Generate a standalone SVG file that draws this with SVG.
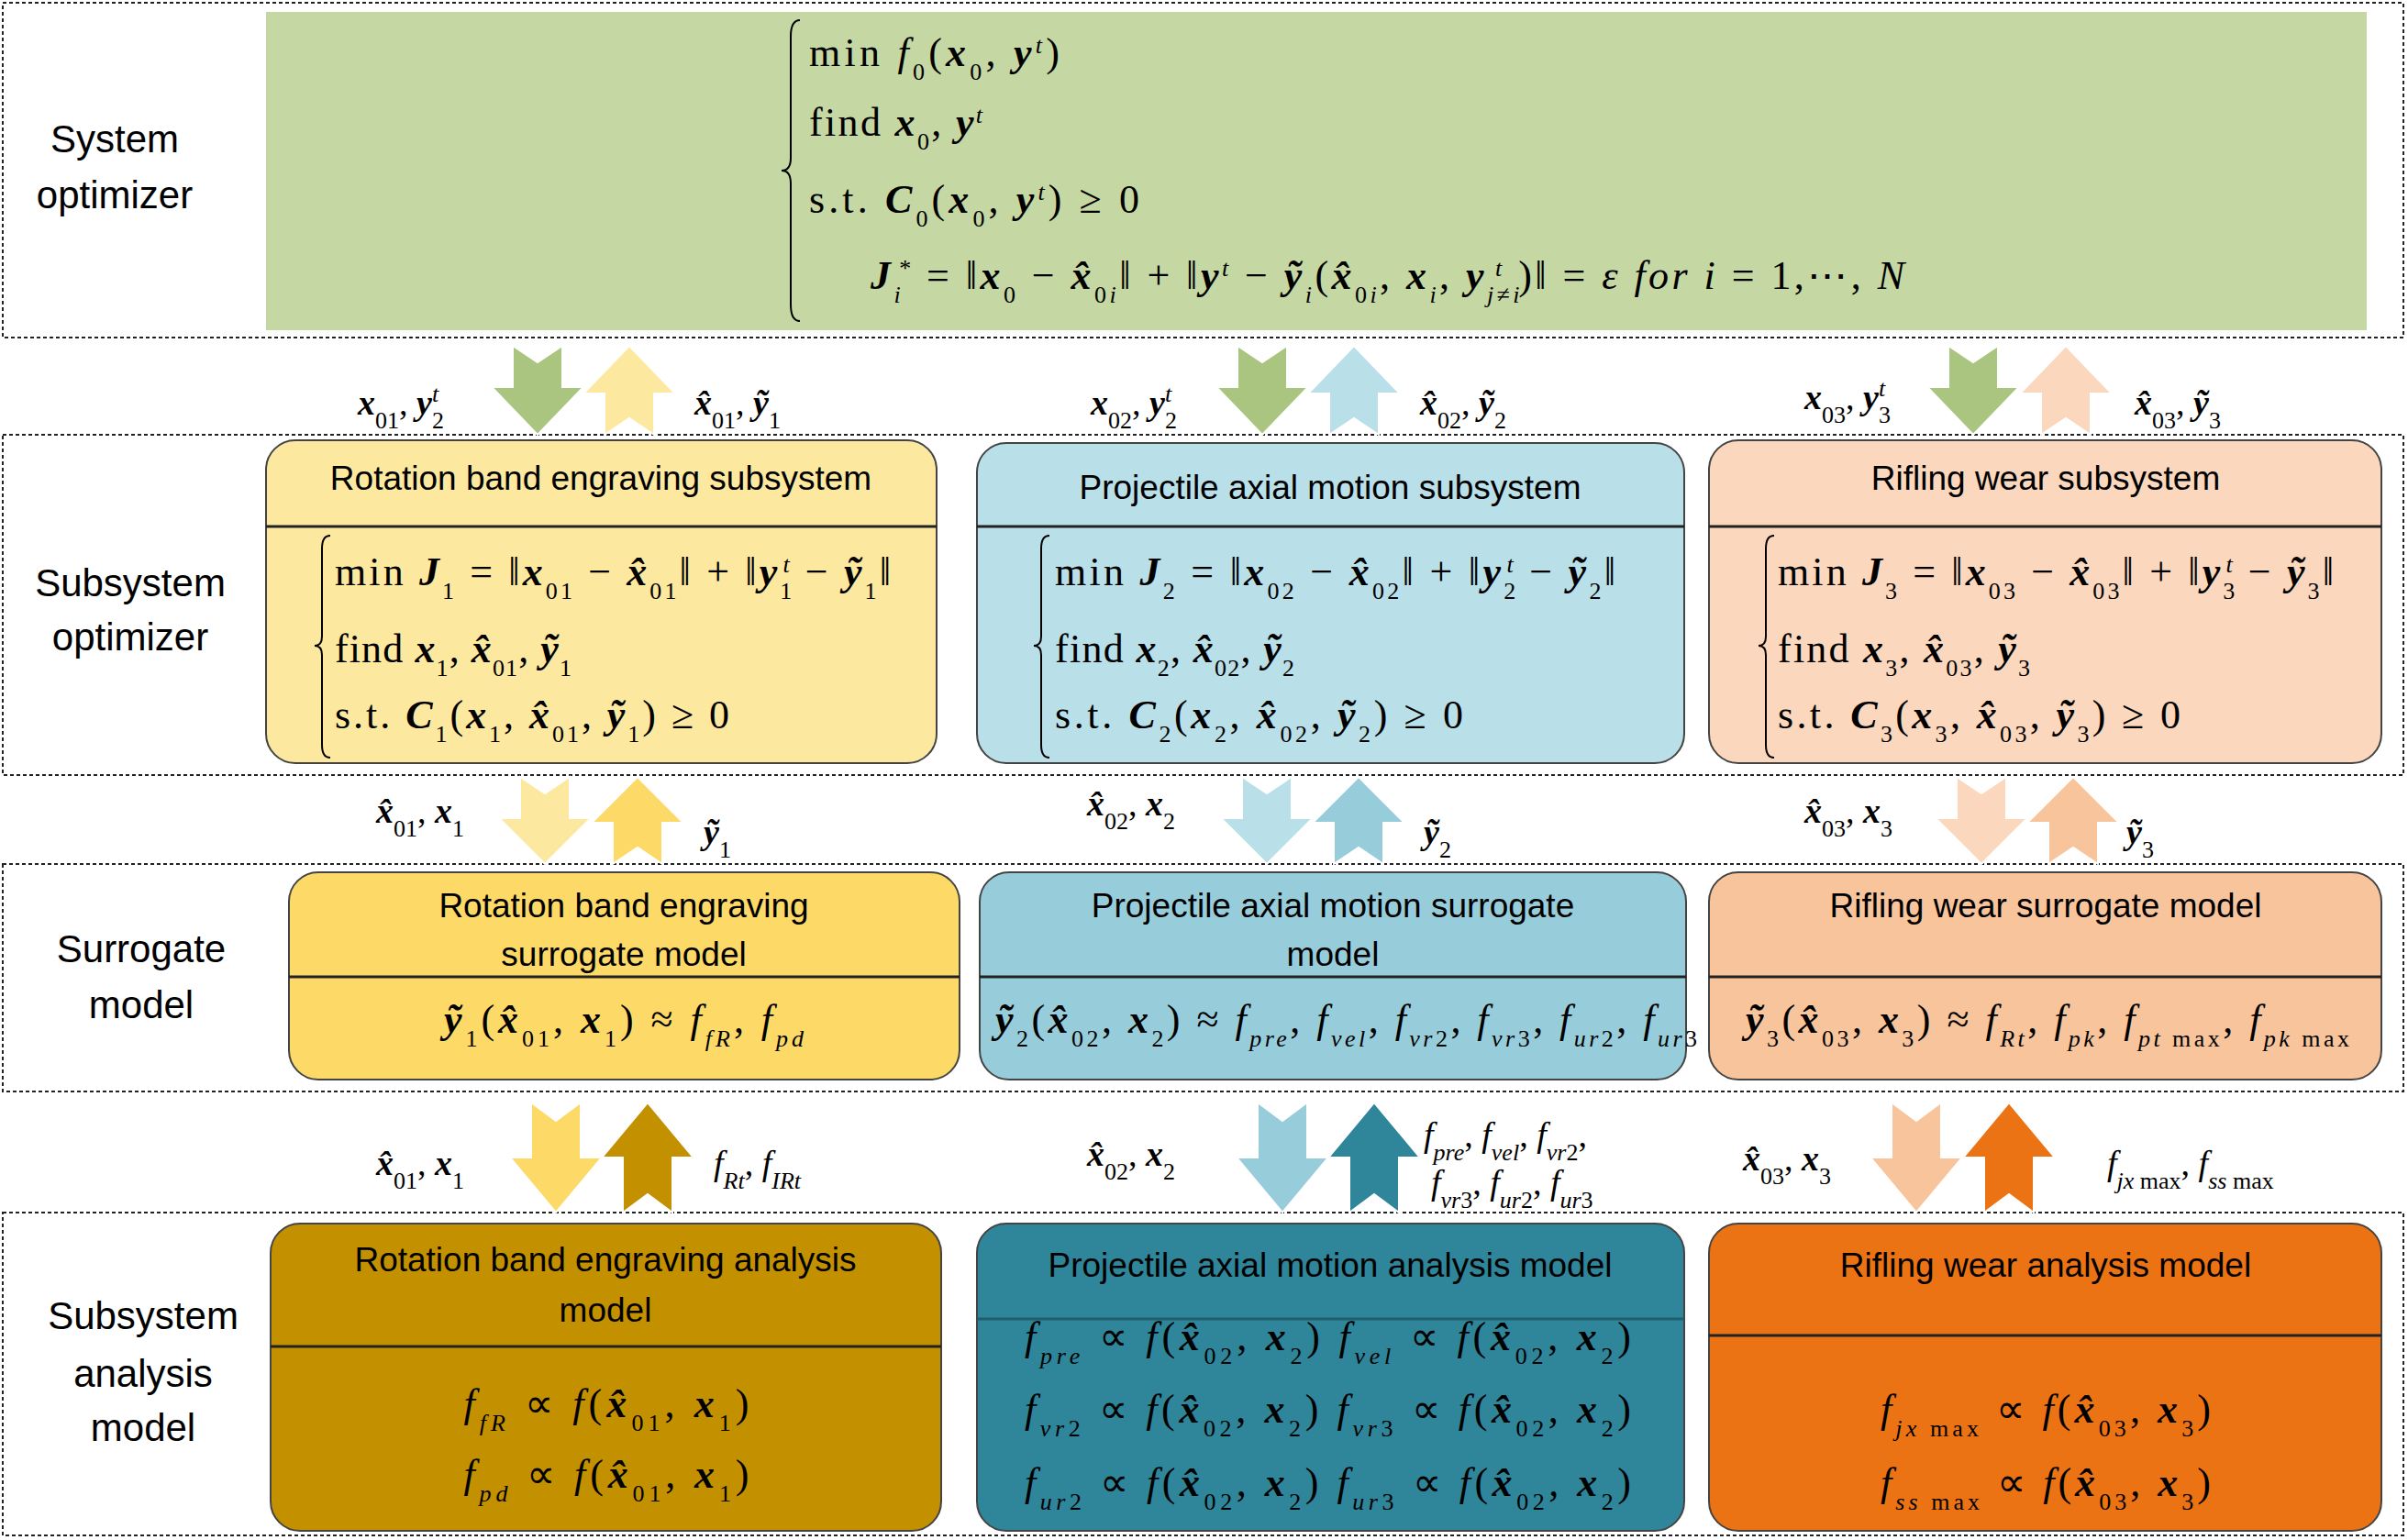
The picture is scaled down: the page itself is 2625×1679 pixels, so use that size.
<svg xmlns="http://www.w3.org/2000/svg" width="2625" height="1679" viewBox="0 0 2625 1679">
<style>
.lbl{font-family:"Liberation Sans",Arial,sans-serif;font-size:42px;text-anchor:middle;fill:#000}
.hd{font-family:"Liberation Sans",Arial,sans-serif;font-size:37px;text-anchor:middle;fill:#000}
.m{font-family:"Liberation Serif","Times New Roman",serif;font-size:44px;fill:#000}
.c{font-family:"Liberation Serif","Times New Roman",serif;font-size:38px;fill:#000}
.v{font-weight:bold;font-style:italic}
.i{font-style:italic}
.s{font-size:26px;baseline-shift:sub;font-style:normal;font-weight:normal}
.si{font-size:26px;baseline-shift:sub;font-style:italic;font-weight:normal}
.p{font-size:26px;baseline-shift:super;font-style:italic;font-weight:normal}
.grp{fill:none;stroke:#222;stroke-width:2;stroke-dasharray:4 3}
.box{stroke:#444;stroke-width:2}
.div{stroke:#222;stroke-width:3}
.brace{fill:none;stroke:#000;stroke-width:2}
.ar{stroke:#fff;stroke-width:2}
</style>
<rect width="2625" height="1679" fill="#fff"/>

<g id="system-optimizer">
<rect class="grp" x="3" y="3" width="2617" height="365"/>
<rect x="290" y="13" width="2290" height="347" fill="#c5d7a3"/>
<text class="lbl" x="125" y="166">System</text>
<text class="lbl" x="125" y="227">optimizer</text>
<path class="brace" d="M872,22 Q862,22 862,40 L862,172 Q862,186 852,186 Q862,186 862,200 L862,332 Q862,350 872,350"/>
<text class="m" x="882" y="72" textLength="273" lengthAdjust="spacing">min <tspan class="i">f</tspan><tspan class="s">0</tspan>(<tspan class="v">x</tspan><tspan class="s">0</tspan>, <tspan class="v">y</tspan><tspan class="p">t</tspan>)</text>
<text class="m" x="882" y="148" textLength="189" lengthAdjust="spacing">find <tspan class="v">x</tspan><tspan class="s">0</tspan>, <tspan class="v">y</tspan><tspan class="p">t</tspan></text>
<text class="m" x="882" y="232" textLength="360" lengthAdjust="spacing">s.t.  <tspan class="v">C</tspan><tspan class="s">0</tspan>(<tspan class="v">x</tspan><tspan class="s">0</tspan>, <tspan class="v">y</tspan><tspan class="p">t</tspan>) ≥ 0</text>
<text class="m" x="949" y="315" textLength="1127" lengthAdjust="spacing"><tspan class="v">J</tspan><tspan class="si">i</tspan><tspan class="p" dx="-6">*</tspan> = ‖<tspan class="v">x</tspan><tspan class="s">0</tspan> − <tspan class="v">x̂</tspan><tspan class="s">0<tspan class="i">i</tspan></tspan>‖ + ‖<tspan class="v">y</tspan><tspan class="p">t</tspan> − <tspan class="v">ỹ</tspan><tspan class="si">i</tspan>(<tspan class="v">x̂</tspan><tspan class="s">0<tspan class="i">i</tspan></tspan>, <tspan class="v">x</tspan><tspan class="si">i</tspan>, <tspan class="v">y</tspan><tspan class="si">j≠i</tspan><tspan class="p" dx="-30">t</tspan>   )‖ = <tspan class="i">ε for i</tspan> = 1,⋯, <tspan class="i">N</tspan></text>
</g>

<g id="subsystem-optimizer">
<rect class="grp" x="3" y="474" width="2617" height="371"/>
<text class="lbl" x="142" y="650">Subsystem</text>
<text class="lbl" x="142" y="709">optimizer</text>
</g>
<g id="sub1">
<rect class="box" x="290" y="480" width="731" height="352" rx="32" fill="#fde8a0"/>
<line class="div" x1="290" y1="574" x2="1021" y2="574"/>
<text class="hd" x="655" y="534">Rotation band engraving subsystem</text>
<path class="brace" d="M360,584 Q351,584 351,598 L351,694 Q351,704 343,704 Q351,704 351,714 L351,812 Q351,826 360,826"/>
<text class="m" x="365" y="638" textLength="606" lengthAdjust="spacing">min <tspan class="v">J</tspan><tspan class="s">1</tspan> = ‖<tspan class="v">x</tspan><tspan class="s">01</tspan> − <tspan class="v">x̂</tspan><tspan class="s">01</tspan>‖ + ‖<tspan class="v">y</tspan><tspan class="s">1</tspan><tspan class="p" dx="-13">t</tspan> − <tspan class="v">ỹ</tspan><tspan class="s">1</tspan>‖</text>
<text class="m" x="365" y="722" textLength="258" lengthAdjust="spacing">find <tspan class="v">x</tspan><tspan class="s">1</tspan>, <tspan class="v">x̂</tspan><tspan class="s">01</tspan>, <tspan class="v">ỹ</tspan><tspan class="s">1</tspan></text>
<text class="m" x="365" y="794" textLength="430" lengthAdjust="spacing">s.t.  <tspan class="v">C</tspan><tspan class="s">1</tspan>(<tspan class="v">x</tspan><tspan class="s">1</tspan>, <tspan class="v">x̂</tspan><tspan class="s">01</tspan>, <tspan class="v">ỹ</tspan><tspan class="s">1</tspan>) ≥ 0</text>
</g>
<g id="sub2">
<rect class="box" x="1065" y="483" width="771" height="349" rx="32" fill="#b9dfe9"/>
<line class="div" x1="1065" y1="574" x2="1836" y2="574"/>
<text class="hd" x="1450" y="544">Projectile axial motion subsystem</text>
<path class="brace" d="M1144,584 Q1135,584 1135,598 L1135,694 Q1135,704 1127,704 Q1135,704 1135,714 L1135,812 Q1135,826 1144,826"/>
<text class="m" x="1150" y="638" textLength="611" lengthAdjust="spacing">min <tspan class="v">J</tspan><tspan class="s">2</tspan> = ‖<tspan class="v">x</tspan><tspan class="s">02</tspan> − <tspan class="v">x̂</tspan><tspan class="s">02</tspan>‖ + ‖<tspan class="v">y</tspan><tspan class="s">2</tspan><tspan class="p" dx="-13">t</tspan> − <tspan class="v">ỹ</tspan><tspan class="s">2</tspan>‖</text>
<text class="m" x="1150" y="722" textLength="261" lengthAdjust="spacing">find <tspan class="v">x</tspan><tspan class="s">2</tspan>, <tspan class="v">x̂</tspan><tspan class="s">02</tspan>, <tspan class="v">ỹ</tspan><tspan class="s">2</tspan></text>
<text class="m" x="1150" y="794" textLength="445" lengthAdjust="spacing">s.t.  <tspan class="v">C</tspan><tspan class="s">2</tspan>(<tspan class="v">x</tspan><tspan class="s">2</tspan>, <tspan class="v">x̂</tspan><tspan class="s">02</tspan>, <tspan class="v">ỹ</tspan><tspan class="s">2</tspan>) ≥ 0</text>
</g>
<g id="sub3">
<rect class="box" x="1863" y="480" width="733" height="352" rx="32" fill="#fad7bd"/>
<line class="div" x1="1863" y1="574" x2="2596" y2="574"/>
<text class="hd" x="2230" y="534">Rifling wear subsystem</text>
<path class="brace" d="M1934,584 Q1925,584 1925,598 L1925,694 Q1925,704 1917,704 Q1925,704 1925,714 L1925,812 Q1925,826 1934,826"/>
<text class="m" x="1938" y="638" textLength="606" lengthAdjust="spacing">min <tspan class="v">J</tspan><tspan class="s">3</tspan> = ‖<tspan class="v">x</tspan><tspan class="s">03</tspan> − <tspan class="v">x̂</tspan><tspan class="s">03</tspan>‖ + ‖<tspan class="v">y</tspan><tspan class="s">3</tspan><tspan class="p" dx="-13">t</tspan> − <tspan class="v">ỹ</tspan><tspan class="s">3</tspan>‖</text>
<text class="m" x="1938" y="722" textLength="275" lengthAdjust="spacing">find <tspan class="v">x</tspan><tspan class="s">3</tspan>, <tspan class="v">x̂</tspan><tspan class="s">03</tspan>, <tspan class="v">ỹ</tspan><tspan class="s">3</tspan></text>
<text class="m" x="1938" y="794" textLength="439" lengthAdjust="spacing">s.t.  <tspan class="v">C</tspan><tspan class="s">3</tspan>(<tspan class="v">x</tspan><tspan class="s">3</tspan>, <tspan class="v">x̂</tspan><tspan class="s">03</tspan>, <tspan class="v">ỹ</tspan><tspan class="s">3</tspan>) ≥ 0</text>
</g>

<g id="surrogate-model">
<rect class="grp" x="3" y="942" width="2617" height="248"/>
<text class="lbl" x="154" y="1049">Surrogate</text>
<text class="lbl" x="154" y="1110">model</text>
</g>
<g id="sur1">
<rect class="box" x="315" y="951" width="731" height="226" rx="32" fill="#fdd968"/>
<line class="div" x1="315" y1="1065" x2="1046" y2="1065"/>
<text class="hd" x="680" y="1000">Rotation band engraving</text>
<text class="hd" x="680" y="1053">surrogate model</text>
<text class="m" x="680" y="1126" text-anchor="middle" textLength="392" lengthAdjust="spacing"><tspan class="v">ỹ</tspan><tspan class="s">1</tspan>(<tspan class="v">x̂</tspan><tspan class="s">01</tspan>, <tspan class="v">x</tspan><tspan class="s">1</tspan>) ≈ <tspan class="i">f</tspan><tspan class="si">fR</tspan>, <tspan class="i">f</tspan><tspan class="si">pd</tspan></text>
</g>
<g id="sur2">
<rect class="box" x="1068" y="951" width="770" height="226" rx="32" fill="#97cddb"/>
<line class="div" x1="1068" y1="1065" x2="1838" y2="1065"/>
<text class="hd" x="1453" y="1000">Projectile axial motion  surrogate</text>
<text class="hd" x="1453" y="1053">model</text>
<text class="m" x="1085" y="1126" textLength="765" lengthAdjust="spacing"><tspan class="v">ỹ</tspan><tspan class="s">2</tspan>(<tspan class="v">x̂</tspan><tspan class="s">02</tspan>, <tspan class="v">x</tspan><tspan class="s">2</tspan>) ≈ <tspan class="i">f</tspan><tspan class="si">pre</tspan>, <tspan class="i">f</tspan><tspan class="si">vel</tspan>, <tspan class="i">f</tspan><tspan class="si">vr</tspan><tspan class="s">2</tspan>, <tspan class="i">f</tspan><tspan class="si">vr</tspan><tspan class="s">3</tspan>, <tspan class="i">f</tspan><tspan class="si">ur</tspan><tspan class="s">2</tspan>, <tspan class="i">f</tspan><tspan class="si">ur</tspan><tspan class="s">3</tspan></text>
</g>
<g id="sur3">
<rect class="box" x="1863" y="951" width="733" height="226" rx="32" fill="#f8c49c"/>
<line class="div" x1="1863" y1="1065" x2="2596" y2="1065"/>
<text class="hd" x="2230" y="1000">Rifling wear  surrogate model</text>
<text class="m" x="1903" y="1126" textLength="658" lengthAdjust="spacing"><tspan class="v">ỹ</tspan><tspan class="s">3</tspan>(<tspan class="v">x̂</tspan><tspan class="s">03</tspan>, <tspan class="v">x</tspan><tspan class="s">3</tspan>) ≈ <tspan class="i">f</tspan><tspan class="si">Rt</tspan>, <tspan class="i">f</tspan><tspan class="si">pk</tspan>, <tspan class="i">f</tspan><tspan class="si">pt</tspan><tspan class="s"> max</tspan>, <tspan class="i">f</tspan><tspan class="si">pk</tspan><tspan class="s"> max</tspan></text>
</g>

<g id="analysis-model">
<rect class="grp" x="3" y="1322" width="2617" height="352"/>
<text class="lbl" x="156" y="1449">Subsystem</text>
<text class="lbl" x="156" y="1512">analysis</text>
<text class="lbl" x="156" y="1571">model</text>
</g>
<g id="ana1">
<rect class="box" x="295" y="1334" width="731" height="335" rx="32" fill="#c39000"/>
<line class="div" x1="295" y1="1468" x2="1026" y2="1468"/>
<text class="hd" x="660" y="1386">Rotation band engraving analysis</text>
<text class="hd" x="660" y="1441">model</text>
<text class="m" x="661" y="1545" text-anchor="middle" textLength="311" lengthAdjust="spacing"><tspan class="i">f</tspan><tspan class="si">fR</tspan> ∝ <tspan class="i">f</tspan>(<tspan class="v">x̂</tspan><tspan class="s">01</tspan>, <tspan class="v">x</tspan><tspan class="s">1</tspan>)</text>
<text class="m" x="661" y="1622" text-anchor="middle" textLength="311" lengthAdjust="spacing"><tspan class="i">f</tspan><tspan class="si">pd</tspan> ∝ <tspan class="i">f</tspan>(<tspan class="v">x̂</tspan><tspan class="s">01</tspan>, <tspan class="v">x</tspan><tspan class="s">1</tspan>)</text>
</g>
<g id="ana2">
<rect class="box" x="1065" y="1334" width="771" height="335" rx="32" fill="#2f8599"/>
<line x1="1065" y1="1438" x2="1836" y2="1438" stroke="#1f5f6e" stroke-width="3"/>
<text class="hd" x="1450" y="1392">Projectile axial motion analysis model</text>
<text class="m" x="1117" y="1472" textLength="661" lengthAdjust="spacing"><tspan class="i">f</tspan><tspan class="si">pre</tspan> ∝ <tspan class="i">f</tspan>(<tspan class="v">x̂</tspan><tspan class="s">02</tspan>, <tspan class="v">x</tspan><tspan class="s">2</tspan>) <tspan class="i">f</tspan><tspan class="si">vel</tspan> ∝ <tspan class="i">f</tspan>(<tspan class="v">x̂</tspan><tspan class="s">02</tspan>, <tspan class="v">x</tspan><tspan class="s">2</tspan>)</text>
<text class="m" x="1117" y="1551" textLength="661" lengthAdjust="spacing"><tspan class="i">f</tspan><tspan class="si">vr</tspan><tspan class="s">2</tspan> ∝ <tspan class="i">f</tspan>(<tspan class="v">x̂</tspan><tspan class="s">02</tspan>, <tspan class="v">x</tspan><tspan class="s">2</tspan>) <tspan class="i">f</tspan><tspan class="si">vr</tspan><tspan class="s">3</tspan> ∝ <tspan class="i">f</tspan>(<tspan class="v">x̂</tspan><tspan class="s">02</tspan>, <tspan class="v">x</tspan><tspan class="s">2</tspan>)</text>
<text class="m" x="1117" y="1631" textLength="661" lengthAdjust="spacing"><tspan class="i">f</tspan><tspan class="si">ur</tspan><tspan class="s">2</tspan> ∝ <tspan class="i">f</tspan>(<tspan class="v">x̂</tspan><tspan class="s">02</tspan>, <tspan class="v">x</tspan><tspan class="s">2</tspan>) <tspan class="i">f</tspan><tspan class="si">ur</tspan><tspan class="s">3</tspan> ∝ <tspan class="i">f</tspan>(<tspan class="v">x̂</tspan><tspan class="s">02</tspan>, <tspan class="v">x</tspan><tspan class="s">2</tspan>)</text>
</g>
<g id="ana3">
<rect class="box" x="1863" y="1334" width="733" height="335" rx="32" fill="#ec7313"/>
<line class="div" x1="1863" y1="1456" x2="2596" y2="1456"/>
<text class="hd" x="2230" y="1392">Rifling wear analysis model</text>
<text class="m" x="2230" y="1551" text-anchor="middle" textLength="360" lengthAdjust="spacing"><tspan class="i">f</tspan><tspan class="si">jx</tspan><tspan class="s"> max</tspan> ∝ <tspan class="i">f</tspan>(<tspan class="v">x̂</tspan><tspan class="s">03</tspan>, <tspan class="v">x</tspan><tspan class="s">3</tspan>)</text>
<text class="m" x="2230" y="1631" text-anchor="middle" textLength="360" lengthAdjust="spacing"><tspan class="i">f</tspan><tspan class="si">ss</tspan><tspan class="s"> max</tspan> ∝ <tspan class="i">f</tspan>(<tspan class="v">x̂</tspan><tspan class="s">03</tspan>, <tspan class="v">x</tspan><tspan class="s">3</tspan>)</text>
</g>

<g id="connectors">
<path class="ar" fill="#a9c580" d="M559,377 L586,395 L613,377 L613,422 L636,422 L586,474 L536,422 L559,422 Z"/>
<path class="ar" fill="#fde8a0" d="M659,474 L686,456 L713,474 L713,429 L736,429 L686,377 L636,429 L659,429 Z"/>
<path class="ar" fill="#a9c580" d="M1349,377 L1376,395 L1403,377 L1403,422 L1426,422 L1376,474 L1326,422 L1349,422 Z"/>
<path class="ar" fill="#b9dfe9" d="M1449,474 L1476,456 L1503,474 L1503,429 L1526,429 L1476,377 L1426,429 L1449,429 Z"/>
<path class="ar" fill="#a9c580" d="M2124,377 L2151,395 L2178,377 L2178,422 L2201,422 L2151,474 L2101,422 L2124,422 Z"/>
<path class="ar" fill="#fad7bd" d="M2225,474 L2252,456 L2279,474 L2279,429 L2302,429 L2252,377 L2202,429 L2225,429 Z"/>
<path class="ar" fill="#fde8a0" d="M567,847 L594,865 L621,847 L621,892 L644,892 L594,942 L544,892 L567,892 Z"/>
<path class="ar" fill="#fdd968" d="M668,942 L695,924 L722,942 L722,897 L745,897 L695,847 L645,897 L668,897 Z"/>
<path class="ar" fill="#b9dfe9" d="M1354,847 L1381,865 L1408,847 L1408,892 L1431,892 L1381,942 L1331,892 L1354,892 Z"/>
<path class="ar" fill="#97cddb" d="M1454,942 L1481,924 L1508,942 L1508,897 L1531,897 L1481,847 L1431,897 L1454,897 Z"/>
<path class="ar" fill="#fad7bd" d="M2133,847 L2160,865 L2187,847 L2187,892 L2210,892 L2160,942 L2110,892 L2133,892 Z"/>
<path class="ar" fill="#f8c49c" d="M2233,942 L2260,924 L2287,942 L2287,897 L2310,897 L2260,847 L2210,897 L2233,897 Z"/>
<path class="ar" fill="#fdd968" d="M579,1202 L606,1222 L633,1202 L633,1262 L656,1262 L606,1322 L556,1262 L579,1262 Z"/>
<path class="ar" fill="#c39000" d="M679,1322 L706,1302 L733,1322 L733,1262 L756,1262 L706,1202 L656,1262 L679,1262 Z"/>
<path class="ar" fill="#97cddb" d="M1371,1202 L1398,1222 L1425,1202 L1425,1262 L1448,1262 L1398,1322 L1348,1262 L1371,1262 Z"/>
<path class="ar" fill="#2f8599" d="M1471,1322 L1498,1302 L1525,1322 L1525,1262 L1548,1262 L1498,1202 L1448,1262 L1471,1262 Z"/>
<path class="ar" fill="#f8c49c" d="M2062,1202 L2089,1222 L2116,1202 L2116,1262 L2139,1262 L2089,1322 L2039,1262 L2062,1262 Z"/>
<path class="ar" fill="#ec7313" d="M2163,1322 L2190,1302 L2217,1322 L2217,1262 L2240,1262 L2190,1202 L2140,1262 L2163,1262 Z"/>
</g>

<g id="connector-labels">
<text class="c" x="390" y="452"><tspan class="v">x</tspan><tspan class="s">01</tspan>, <tspan class="v">y</tspan><tspan class="s">2</tspan><tspan class="p" dx="-13">t</tspan></text>
<text class="c" x="757" y="452"><tspan class="v">x̂</tspan><tspan class="s">01</tspan>, <tspan class="v">ỹ</tspan><tspan class="s">1</tspan></text>
<text class="c" x="1189" y="452"><tspan class="v">x</tspan><tspan class="s">02</tspan>, <tspan class="v">y</tspan><tspan class="s">2</tspan><tspan class="p" dx="-13">t</tspan></text>
<text class="c" x="1548" y="452"><tspan class="v">x̂</tspan><tspan class="s">02</tspan>, <tspan class="v">ỹ</tspan><tspan class="s">2</tspan></text>
<text class="c" x="1967" y="446"><tspan class="v">x</tspan><tspan class="s">03</tspan>, <tspan class="v">y</tspan><tspan class="s">3</tspan><tspan class="p" dx="-13">t</tspan></text>
<text class="c" x="2327" y="452"><tspan class="v">x̂</tspan><tspan class="s">03</tspan>, <tspan class="v">ỹ</tspan><tspan class="s">3</tspan></text>
<text class="c" x="410" y="897"><tspan class="v">x̂</tspan><tspan class="s">01</tspan>, <tspan class="v">x</tspan><tspan class="s">1</tspan></text>
<text class="c" x="767" y="920"><tspan class="v">ỹ</tspan><tspan class="s">1</tspan></text>
<text class="c" x="1185" y="889"><tspan class="v">x̂</tspan><tspan class="s">02</tspan>, <tspan class="v">x</tspan><tspan class="s">2</tspan></text>
<text class="c" x="1552" y="920"><tspan class="v">ỹ</tspan><tspan class="s">2</tspan></text>
<text class="c" x="1967" y="897"><tspan class="v">x̂</tspan><tspan class="s">03</tspan>, <tspan class="v">x</tspan><tspan class="s">3</tspan></text>
<text class="c" x="2318" y="920"><tspan class="v">ỹ</tspan><tspan class="s">3</tspan></text>
<text class="c" x="410" y="1281"><tspan class="v">x̂</tspan><tspan class="s">01</tspan>, <tspan class="v">x</tspan><tspan class="s">1</tspan></text>
<text class="c" x="778" y="1281"><tspan class="i">f</tspan><tspan class="si">Rt</tspan>, <tspan class="i">f</tspan><tspan class="si">IRt</tspan></text>
<text class="c" x="1185" y="1271"><tspan class="v">x̂</tspan><tspan class="s">02</tspan>, <tspan class="v">x</tspan><tspan class="s">2</tspan></text>
<text class="c" x="1552" y="1250"><tspan class="i">f</tspan><tspan class="si">pre</tspan>, <tspan class="i">f</tspan><tspan class="si">vel</tspan>, <tspan class="i">f</tspan><tspan class="si">vr</tspan><tspan class="s">2</tspan>,</text>
<text class="c" x="1560" y="1302"><tspan class="i">f</tspan><tspan class="si">vr</tspan><tspan class="s">3</tspan>, <tspan class="i">f</tspan><tspan class="si">ur</tspan><tspan class="s">2</tspan>, <tspan class="i">f</tspan><tspan class="si">ur</tspan><tspan class="s">3</tspan></text>
<text class="c" x="1900" y="1276"><tspan class="v">x̂</tspan><tspan class="s">03</tspan>, <tspan class="v">x</tspan><tspan class="s">3</tspan></text>
<text class="c" x="2297" y="1281"><tspan class="i">f</tspan><tspan class="si">jx</tspan><tspan class="s"> max</tspan>, <tspan class="i">f</tspan><tspan class="si">ss</tspan><tspan class="s"> max</tspan></text>
</g>
</svg>
